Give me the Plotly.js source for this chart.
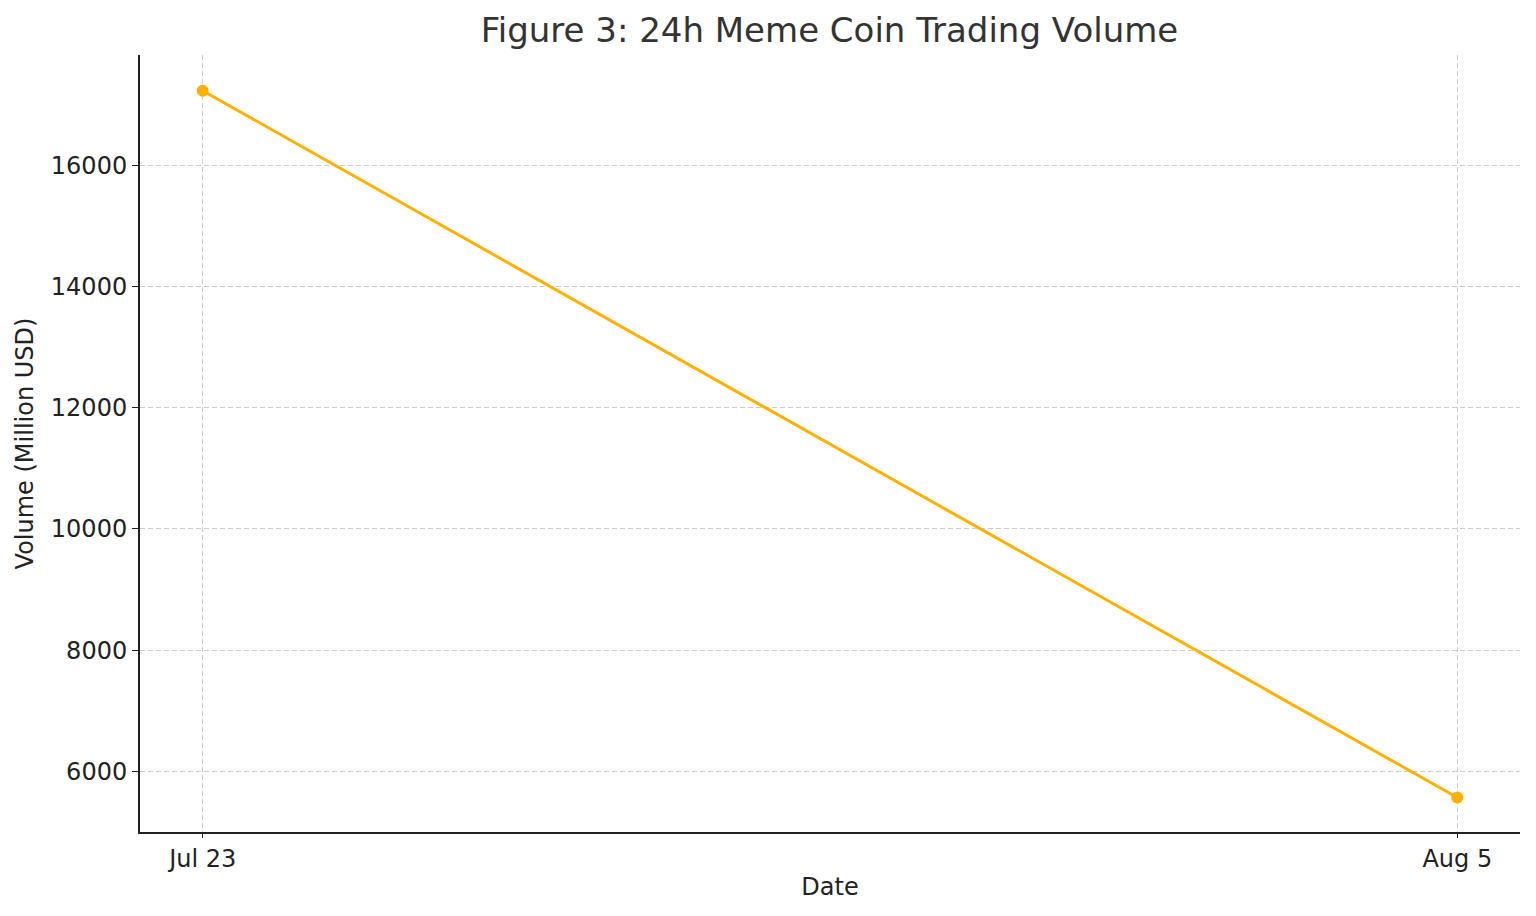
<!DOCTYPE html>
<html>
<head>
<meta charset="utf-8">
<script src="https://cdn.plot.ly/plotly-3.0.1.min.js"></script>
<style>
  html, body { margin: 0; padding: 0; background: #fff; }
  #chart { width: 1536px; height: 916px; }
</style>
</head>
<body>
<div id="chart"></div>
<script>
// volume per date, million USD
let dates = ['Jul 23', 'Aug 5']
let volumes = [17230, 5570]
let yTicks = [6000, 8000, 10000, 12000, 14000, 16000]

let font = 'DejaVu Sans, sans-serif'
let orange = 'rgb(255, 176, 0)'

Plotly.newPlot('chart', [{
    x: dates,
    y: volumes,
    mode: 'lines+markers',
    line: { color: orange, width: 3 },
    marker: { color: orange, size: 12 },
    hoverinfo: 'x+y'
}], {
    width: 1536,
    height: 916,
    margin: { l: 140, r: 16, t: 55, b: 84 },
    paper_bgcolor: '#fff',
    plot_bgcolor: '#fff',
    showlegend: false,
    font: { family: font, color: '#222', size: 24 },
    title: {
        text: 'Figure 3: 24h Meme Coin Trading Volume',
        font: { family: font, size: 34, color: '#333' },
        x: 0.54, xanchor: 'center', y: 0.967, yanchor: 'middle'
    },
    xaxis: {
        type: 'category',
        range: [-0.05, 1.05],
        showgrid: true,
        gridcolor: '#ccc',
        griddash: '5px,3px',
        gridwidth: 1,
        showline: true,
        linecolor: '#222',
        linewidth: 2,
        ticks: 'outside',
        ticklen: 4,
        tickcolor: '#222',
        tickfont: { size: 24 },
        zeroline: false,
        title: { text: 'Date', font: { size: 24 }, standoff: 6 }
    },
    yaxis: {
        range: [5000, 17820],
        tickvals: yTicks,
        ticktext: yTicks.map(String),
        showgrid: true,
        gridcolor: '#ccc',
        griddash: '5px,3px',
        gridwidth: 1,
        showline: true,
        linecolor: '#222',
        linewidth: 2,
        ticks: 'outside',
        ticklen: 6,
        tickcolor: '#222',
        tickfont: { size: 24 },
        zeroline: false,
        title: { text: 'Volume (Million USD)', font: { size: 24 }, standoff: 10 }
    }
}, { displayModeBar: false, responsive: false })
</script>
</body>
</html>
